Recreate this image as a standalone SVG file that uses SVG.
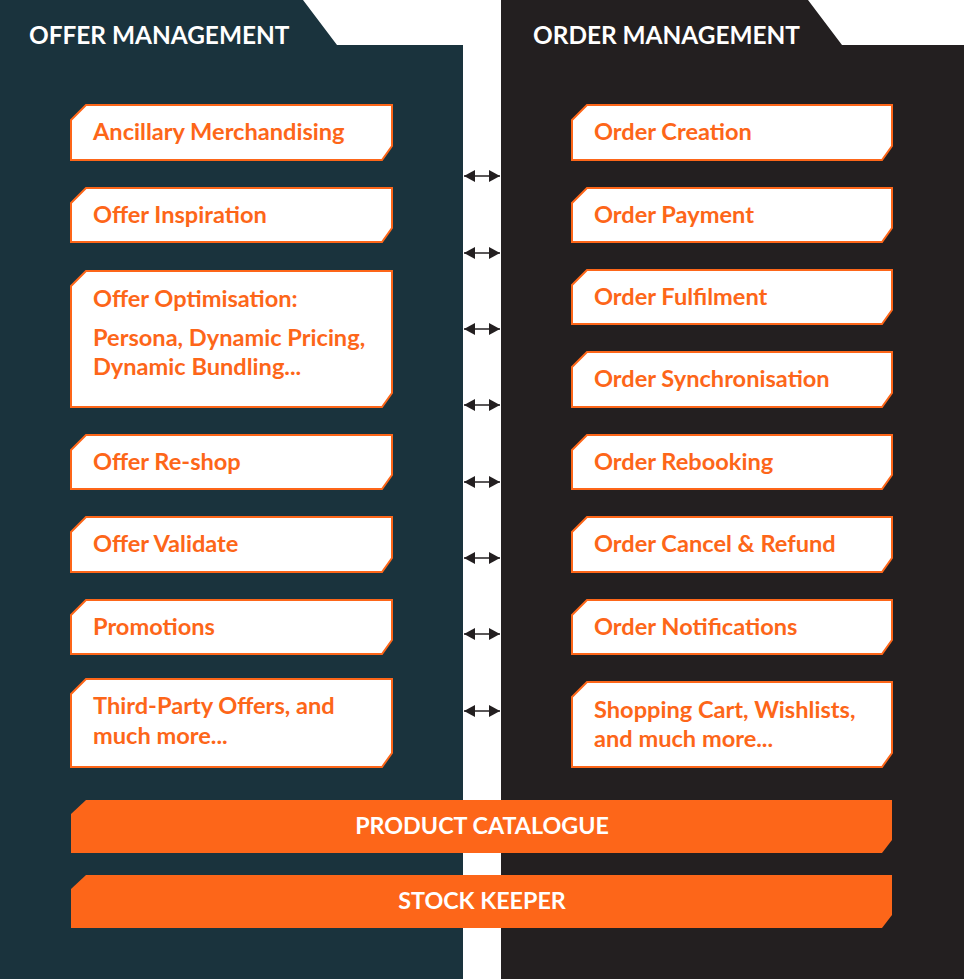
<svg xmlns="http://www.w3.org/2000/svg" width="964" height="979" viewBox="0 0 964 979">
<defs>
<marker id="ah" viewBox="0 0 11 12" refX="11" refY="6" markerWidth="11" markerHeight="12" markerUnits="userSpaceOnUse" orient="auto-start-reverse"><path d="M0,0 L11,6 L0,12 z" fill="#231f20"/></marker>
<style>
.box{fill:#fff;stroke:#fd6619;stroke-width:2}
.bar{fill:#fd6619}
.t{font-family:Lato,"Open Sans",sans-serif;font-weight:700;font-size:23.6px;fill:#fd6619}
.h{font-family:Lato,"Open Sans",sans-serif;font-weight:700;font-size:24.4px;fill:#fff}
.bt{font-family:Lato,"Open Sans",sans-serif;font-weight:700;font-size:23.3px;fill:#fff;text-anchor:middle}
.arr{stroke:#231f20;stroke-width:1.5;fill:none}
</style>
</defs>
<rect width="964" height="979" fill="#fff"/>
<g id="offer-panel">
<polygon points="0,0 303,0 337,45 463,45 463,979 0,979" fill="#1a333d"/>
<text class="h" x="29" y="44">OFFER MANAGEMENT</text>
</g>
<g id="order-panel">
<polygon points="501,0 808,0 842,45 964,45 964,979 501,979" fill="#231f20"/>
<text class="h" x="533" y="44">ORDER MANAGEMENT</text>
</g>
<g id="ancillary"><path class="box" d="M71,120 L86,105 H392 V146 L382,160 H71 Z"/><text class="t" x="93" y="140">Ancillary Merchandising</text></g>
<g id="inspiration"><path class="box" d="M71,203 L86,188 H392 V228 L382,242 H71 Z"/><text class="t" x="93" y="223">Offer Inspiration</text></g>
<g id="optimisation"><path class="box" d="M71,286 L86,271 H392 V393 L382,407 H71 Z"/><text class="t" x="93" y="307">Offer Optimisation:</text><text class="t" x="93" y="346">Persona, Dynamic Pricing,</text><text class="t" x="93" y="375">Dynamic Bundling...</text></g>
<g id="reshop"><path class="box" d="M71,450 L86,435 H392 V475 L382,489 H71 Z"/><text class="t" x="93" y="470">Offer Re-shop</text></g>
<g id="validate"><path class="box" d="M71,532 L86,517 H392 V558 L382,572 H71 Z"/><text class="t" x="93" y="552">Offer Validate</text></g>
<g id="promotions"><path class="box" d="M71,615 L86,600 H392 V640 L382,654 H71 Z"/><text class="t" x="93" y="635">Promotions</text></g>
<g id="third-party"><path class="box" d="M71,694 L86,679 H392 V753 L382,767 H71 Z"/><text class="t" x="93" y="714">Third-Party Offers, and</text><text class="t" x="93" y="744">much more...</text></g>
<g id="creation"><path class="box" d="M572,120 L587,105 H892 V146 L882,160 H572 Z"/><text class="t" x="594" y="140">Order Creation</text></g>
<g id="payment"><path class="box" d="M572,203 L587,188 H892 V228 L882,242 H572 Z"/><text class="t" x="594" y="223">Order Payment</text></g>
<g id="fulfilment"><path class="box" d="M572,285 L587,270 H892 V310 L882,324 H572 Z"/><text class="t" x="594" y="305">Order Fulfilment</text></g>
<g id="synchronisation"><path class="box" d="M572,367 L587,352 H892 V393 L882,407 H572 Z"/><text class="t" x="594" y="387">Order Synchronisation</text></g>
<g id="rebooking"><path class="box" d="M572,450 L587,435 H892 V475 L882,489 H572 Z"/><text class="t" x="594" y="470">Order Rebooking</text></g>
<g id="cancel"><path class="box" d="M572,532 L587,517 H892 V558 L882,572 H572 Z"/><text class="t" x="594" y="552">Order Cancel &amp; Refund</text></g>
<g id="notifications"><path class="box" d="M572,615 L587,600 H892 V640 L882,654 H572 Z"/><text class="t" x="594" y="635">Order Notifications</text></g>
<g id="cart"><path class="box" d="M572,697 L587,682 H892 V753 L882,767 H572 Z"/><text class="t" x="594" y="718">Shopping Cart, Wishlists,</text><text class="t" x="594" y="747">and much more...</text></g>
<g id="catalogue"><path class="bar" d="M71,814 L86,800 H892 V840 L882,853 H71 Z"/><text class="bt" x="482" y="834">PRODUCT CATALOGUE</text></g>
<g id="stock"><path class="bar" d="M71,889 L86,875 H892 V915 L882,928 H71 Z"/><text class="bt" x="482" y="909">STOCK KEEPER</text></g>
<g id="connectors">
<line class="arr" x1="464" y1="176" x2="500" y2="176" marker-start="url(#ah)" marker-end="url(#ah)"/>
<line class="arr" x1="464" y1="253" x2="500" y2="253" marker-start="url(#ah)" marker-end="url(#ah)"/>
<line class="arr" x1="464" y1="329" x2="500" y2="329" marker-start="url(#ah)" marker-end="url(#ah)"/>
<line class="arr" x1="464" y1="405" x2="500" y2="405" marker-start="url(#ah)" marker-end="url(#ah)"/>
<line class="arr" x1="464" y1="482" x2="500" y2="482" marker-start="url(#ah)" marker-end="url(#ah)"/>
<line class="arr" x1="464" y1="558" x2="500" y2="558" marker-start="url(#ah)" marker-end="url(#ah)"/>
<line class="arr" x1="464" y1="634" x2="500" y2="634" marker-start="url(#ah)" marker-end="url(#ah)"/>
<line class="arr" x1="464" y1="711" x2="500" y2="711" marker-start="url(#ah)" marker-end="url(#ah)"/>
</g>
</svg>
